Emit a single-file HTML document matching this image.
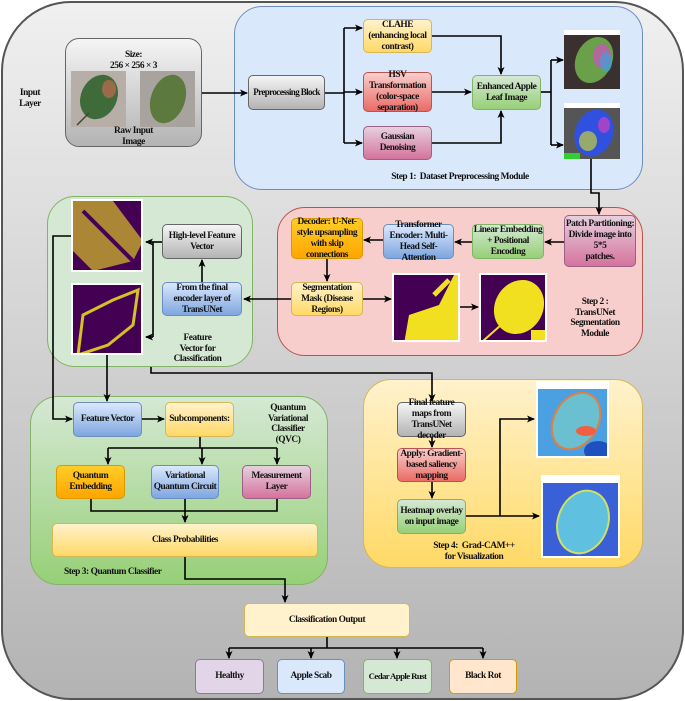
<!DOCTYPE html>
<html><head><meta charset="utf-8"><style>
*{margin:0;padding:0;box-sizing:border-box}
body{width:685px;height:701px;position:relative;overflow:hidden;background:#fff;font-family:"Liberation Serif",serif}
.a{position:absolute}
.c{position:absolute;border-radius:28px}
.b{position:absolute;display:flex;align-items:center;justify-content:center;text-align:center;border:1.5px solid;border-radius:5px;font-weight:bold;font-size:9.4px;line-height:11px;color:#111;letter-spacing:-0.45px}
.t{position:absolute;font-weight:bold;font-size:9.4px;line-height:10.5px;text-align:center;color:#111;letter-spacing:-0.45px}
.gr{background:linear-gradient(#f5f5f5,#b3b3b3);border-color:#666}
.bl{background:linear-gradient(#dae8fc,#7ea6e0);border-color:#6c8ebf}
.ye{background:linear-gradient(#fff2cc,#ffd966);border-color:#d6b656}
.re{background:linear-gradient(#f8cecc,#ea6b66);border-color:#b85450}
.pk{background:linear-gradient(#e6d0de,#d5739d);border-color:#996185}
.gn{background:linear-gradient(#d5e8d4,#97d077);border-color:#82b366}
.or{background:linear-gradient(#ffcd28,#ffa500);border-color:#d79b00}
.img{position:absolute;border:2px solid #fff;overflow:hidden}
.nw{white-space:nowrap}
</style></head><body>
<div class="a" style="left:1px;top:1px;width:683px;height:699px;border:2px solid #555;border-radius:70px;background:linear-gradient(#f0f0f0,#b3b3b3)"></div>
<div class="c" style="left:234px;top:6px;width:409px;height:184px;background:#dae8fc;border:1.5px solid #6c8ebf"></div>
<div class="c" style="left:277px;top:207px;width:366px;height:149px;background:#f8cecc;border:1.5px solid #b85450"></div>
<div class="c" style="left:47px;top:196px;width:206px;height:171px;background:#d5e8d4;border:1.5px solid #82b366"></div>
<div class="c" style="left:30px;top:396px;width:298px;height:189px;background:linear-gradient(#d5e8d4,#97d077);border:1.5px solid #82b366"></div>
<div class="c" style="left:363px;top:379px;width:280px;height:189px;background:linear-gradient(#fff2cc,#ffd966);border:1.5px solid #d6b656"></div>
<div class="a" style="left:65px;top:38px;width:137px;height:109px;border:1.5px solid #666;border-radius:14px;background:linear-gradient(#f5f5f5,#b3b3b3)"></div>

<svg class="a" style="left:0;top:0;width:0;height:0">
<defs><marker id="m" markerWidth="8" markerHeight="8" refX="7" refY="4" orient="auto" markerUnits="userSpaceOnUse"><path d="M0,0.5 L8,4 L0,7.5 L2,4z" fill="#000"/></marker></defs>
</svg>

<div class="img" style="left:71px;top:71px;width:55px;height:56px;background:#b7aea8;border:none"><svg width="55" height="56"><ellipse cx="28" cy="26" rx="18" ry="23" fill="#3f6b3a" transform="rotate(25 28 26)"/><ellipse cx="38" cy="18" rx="7" ry="9" fill="#9a6a4a"/><line x1="18" y1="42" x2="6" y2="54" stroke="#3a4a2a" stroke-width="1.5"/></svg></div>
<div class="img" style="left:140px;top:71px;width:55px;height:56px;background:#a8a39e;border:none"><svg width="55" height="56"><ellipse cx="28" cy="28" rx="17" ry="25" fill="#5d7a3e" transform="rotate(20 28 28)"/></svg></div>
<div class="img" style="left:564px;top:30px;width:56px;height:59px;background:#3a3030;border:none"><svg width="56" height="59"><rect width="56" height="5" fill="#fff"/><ellipse cx="30" cy="30" rx="18" ry="24" fill="#6aa04a" transform="rotate(25 30 30)"/><ellipse cx="38" cy="26" rx="9" ry="12" fill="#d050c0" opacity=".7"/><ellipse cx="42" cy="32" rx="6" ry="10" fill="#40a0e0" opacity=".7"/></svg></div>
<div class="img" style="left:564px;top:103px;width:56px;height:56px;background:#555;border:none"><svg width="56" height="56"><rect width="56" height="5" fill="#fff"/><ellipse cx="30" cy="30" rx="19" ry="24" fill="#3050e0" transform="rotate(20 30 30)"/><ellipse cx="24" cy="38" rx="9" ry="10" fill="#b0c050" opacity=".8"/><ellipse cx="40" cy="22" rx="6" ry="8" fill="#d040c0" opacity=".7"/><rect y="50" width="16" height="6" fill="#30d030"/></svg></div>
<div class="img" style="left:71px;top:199px;width:72px;height:73px;background:#440154"><svg width="72" height="73"><path d="M0,0 L40,0 L70,40 L60,60 L20,70 L0,50z" fill="#f0e020" opacity=".6"/><path d="M10,10 L60,60" stroke="#440154" stroke-width="4"/></svg></div>
<div class="img" style="left:71px;top:283px;width:72px;height:72px;background:#440154"><svg width="72" height="72"><path d="M5,70 L10,30 L40,15 L65,5 L60,40 L35,60z" fill="none" stroke="#f0e020" stroke-width="3" opacity=".85"/></svg></div>
<div class="img" style="left:392px;top:273px;width:68px;height:69px;background:#440154"><svg width="68" height="69"><path d="M10,69 L15,40 L45,30 L60,0 L68,0 L68,69z" fill="#f0e020"/><path d="M40,20 L55,5" stroke="#f0e020" stroke-width="5"/></svg></div>
<div class="img" style="left:479px;top:273px;width:68px;height:69px;background:#440154"><svg width="68" height="69"><ellipse cx="38" cy="32" rx="24" ry="28" fill="#f0e020" transform="rotate(30 38 32)"/><line x1="20" y1="50" x2="2" y2="66" stroke="#f0e020" stroke-width="2"/><rect x="50" y="55" width="18" height="14" fill="#f0e020"/></svg></div>
<div class="img" style="left:536px;top:381px;width:73px;height:77px;background:#4aa0e0"><svg width="73" height="77"><rect width="73" height="6" fill="#fff"/><ellipse cx="38" cy="38" rx="22" ry="30" fill="#6ac0d0" stroke="#e08040" stroke-width="2" transform="rotate(30 38 38)"/><ellipse cx="48" cy="48" rx="10" ry="5" fill="#f06040"/><ellipse cx="60" cy="68" rx="14" ry="10" fill="#2050c0"/></svg></div>
<div class="img" style="left:541px;top:475px;width:79px;height:83px;background:#3a60d8"><svg width="79" height="83"><rect width="79" height="6" fill="#fff"/><ellipse cx="40" cy="45" rx="25" ry="32" fill="#60c0e0" stroke="#d0e060" stroke-width="2" transform="rotate(20 40 45)"/></svg></div>

<svg class="a" style="left:0;top:0" width="685" height="701">
<g fill="none" stroke="#000" stroke-width="1.6">
<path d="M202,93 H247" marker-end="url(#m)"/>
<path d="M325,93 H344"/><path d="M344,28 V143"/>
<path d="M344,28 H362" marker-end="url(#m)"/><path d="M344,92 H362" marker-end="url(#m)"/><path d="M344,143 H362" marker-end="url(#m)"/>
<path d="M432,36 H501 V74" marker-end="url(#m)"/>
<path d="M432,92 H471" marker-end="url(#m)"/>
<path d="M432,143 H501 V111" marker-end="url(#m)"/>
<path d="M541,92 H551"/><path d="M551,60 V145"/>
<path d="M551,60 H563" marker-end="url(#m)"/><path d="M551,145 H563" marker-end="url(#m)"/>
<path d="M591,159 V193 H599 V214" marker-end="url(#m)"/>
<path d="M564,242 H545" marker-end="url(#m)"/>
<path d="M472,242 H455" marker-end="url(#m)"/>
<path d="M383,240 H364" marker-end="url(#m)"/>
<path d="M327,259 V281" marker-end="url(#m)"/>
<path d="M363,299 H391" marker-end="url(#m)"/>
<path d="M460,307 H478" marker-end="url(#m)"/>
<path d="M291,299 H244" marker-end="url(#m)"/>
<path d="M202,282 V260" marker-end="url(#m)"/>
<path d="M162,242 H146" marker-end="url(#m)"/>
<path d="M153,242 V337"/><path d="M153,337 H146" marker-end="url(#m)"/>
<path d="M71,236 H53 V419 H72" marker-end="url(#m)"/>
<path d="M107,355 V401" marker-end="url(#m)"/>
<path d="M151,367 V373 H432 V401" marker-end="url(#m)"/>
<path d="M142,419 H164" marker-end="url(#m)"/>
<path d="M200,437 V448"/><path d="M108,448 H277"/>
<path d="M108,448 V464" marker-end="url(#m)"/><path d="M202,448 V464" marker-end="url(#m)"/><path d="M277,448 V464" marker-end="url(#m)"/>
<path d="M91,499 V511 H277 V499"/><path d="M185,499 V522" marker-end="url(#m)"/>
<path d="M185,557 V579 H285 V602" marker-end="url(#m)"/>
<path d="M327,637 V648"/><path d="M229,648 H483"/>
<path d="M229,648 V658" marker-end="url(#m)"/><path d="M311,648 V658" marker-end="url(#m)"/><path d="M397,648 V658" marker-end="url(#m)"/><path d="M483,648 V658" marker-end="url(#m)"/>
<path d="M432,437 V447" marker-end="url(#m)"/>
<path d="M432,482 V498" marker-end="url(#m)"/>
<path d="M466,516 H539" marker-end="url(#m)"/>
<path d="M500,516 V419 H534" marker-end="url(#m)"/>
</g></svg>

<div class="t" style="left:10px;top:88px;width:40px">Input<br>Layer</div>
<div class="t" style="left:65px;top:50px;width:137px">Size:<br>256 × 256 × 3</div>
<div class="t" style="left:65px;top:126px;width:137px">Raw Input<br>Image</div>
<div class="b gr nw" style="left:248px;top:75px;width:77px;height:35px;letter-spacing:-0.6px;font-size:9px">Preprocessing Block</div>
<div class="b ye" style="left:363px;top:19px;width:69px;height:34px">CLAHE<br>(enhancing local contrast)</div>
<div class="b re" style="left:363px;top:72px;width:69px;height:40px">HSV Transformation (color-space separation)</div>
<div class="b pk" style="left:363px;top:126px;width:69px;height:34px">Gaussian<br>Denoising</div>
<div class="b gn" style="left:472px;top:75px;width:69px;height:35px">Enhanced Apple Leaf Image</div>
<div class="t" style="left:340px;top:172px;width:240px">Step 1:&nbsp; Dataset Preprocessing Module</div>

<div class="b pk" style="left:564px;top:215px;width:72px;height:52px">Patch Partitioning: Divide image into 5*5<br>patches.</div>
<div class="b gn" style="left:472px;top:224px;width:72px;height:35px">Linear Embedding + Positional Encoding</div>
<div class="b bl" style="left:383px;top:224px;width:71px;height:35px">Transformer Encoder: Multi-Head Self-Attention</div>
<div class="b or" style="left:291px;top:218px;width:72px;height:41px">Decoder: U-Net-style upsampling with skip connections</div>
<div class="b ye" style="left:291px;top:282px;width:72px;height:34px">Segmentation Mask (Disease Regions)</div>
<div class="t" style="left:570px;top:297px;width:50px">Step 2 :<br>TransUNet Segmentation Module</div>

<div class="b gr" style="left:162px;top:224px;width:80px;height:35px">High-level Feature Vector</div>
<div class="b bl" style="left:162px;top:282px;width:80px;height:34px">From the final encoder layer of TransUNet</div>
<div class="t" style="left:165px;top:333px;width:65px">Feature<br>Vector for<br>Classification</div>

<div class="b bl" style="left:73px;top:402px;width:69px;height:35px">Feature Vector</div>
<div class="b ye" style="left:165px;top:402px;width:69px;height:35px">Subcomponents:</div>
<div class="t" style="left:258px;top:403px;width:60px">Quantum Variational Classifier (QVC)</div>
<div class="b or" style="left:56px;top:465px;width:69px;height:34px">Quantum Embedding</div>
<div class="b bl" style="left:151px;top:465px;width:68px;height:34px">Variational Quantum Circuit</div>
<div class="b pk" style="left:242px;top:465px;width:69px;height:34px">Measurement Layer</div>
<div class="b ye" style="left:52px;top:523px;width:266px;height:34px">Class Probabilities</div>
<div class="t" style="left:64px;top:567px;width:110px;text-align:left">Step 3: Quantum Classifier</div>

<div class="b gr" style="left:397px;top:402px;width:69px;height:35px">Final feature maps from TransUNet decoder</div>
<div class="b re" style="left:397px;top:448px;width:69px;height:34px">Apply: Gradient-based saliency mapping</div>
<div class="b gn" style="left:397px;top:499px;width:69px;height:35px">Heatmap overlay on input image</div>
<div class="t" style="left:414px;top:541px;width:120px">Step 4:&nbsp; Grad-CAM++<br>for Visualization</div>

<div class="b" style="left:244px;top:603px;width:166px;height:34px;background:#fff2cc;border-color:#d6b656">Classification Output</div>
<div class="b" style="left:195px;top:659px;width:69px;height:35px;background:#e1d5e7;border-color:#9673a6">Healthy</div>
<div class="b" style="left:277px;top:659px;width:68px;height:35px;background:#dae8fc;border-color:#6c8ebf">Apple Scab</div>
<div class="b nw" style="left:363px;top:659px;width:69px;height:35px;background:#d5e8d4;border-color:#82b366;font-size:8.8px;letter-spacing:-0.6px">Cedar Apple Rust</div>
<div class="b" style="left:449px;top:659px;width:68px;height:35px;background:#ffe6cc;border-color:#d79b00">Black Rot</div>
</body></html>
